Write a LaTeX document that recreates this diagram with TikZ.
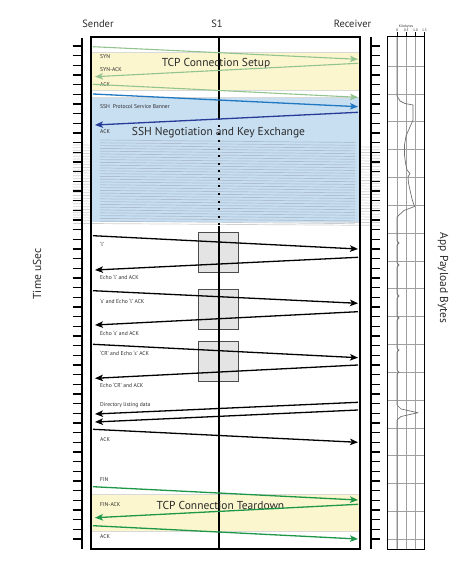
\documentclass[tikz,border=0pt]{standalone}
\usepackage{fontspec}
\setmainfont{PT Sans}
\usetikzlibrary{arrows.meta}
\definecolor{bandyellow}{HTML}{FBF6CE}
\definecolor{bandblue}{HTML}{C8DEF1}
\definecolor{gsetup}{HTML}{93C48F}
\definecolor{gtear}{HTML}{1E9848}
\definecolor{bmid}{HTML}{1F78C1}
\definecolor{bdark}{HTML}{263C98}
\definecolor{txt}{HTML}{2B2B2B}
\definecolor{stripe}{HTML}{98A6B4}
\definecolor{gridgrey}{HTML}{A0A0A0}
\definecolor{curvegrey}{HTML}{707070}
\definecolor{boxgrey}{HTML}{E4E4E4}
\tikzset{
  hdr/.style={font=\fontsize{10.5}{12}\selectfont, text=txt, inner sep=0pt},
  side/.style={font=\fontsize{11.5}{13}\selectfont, text=txt, inner sep=0pt},
  phase/.style={font=\fontsize{11.5}{13}\selectfont, text=txt, inner sep=0pt},
  lbl/.style={font=\fontsize{5.6}{6}\selectfont, text=txt, anchor=west, inner sep=0pt},
  tiny/.style={font=\fontsize{3.6}{4}\selectfont, text=txt, inner sep=0pt},
  msg/.style={-{Stealth[length=8pt,width=6.5pt,inset=2pt]}, line width=1.3pt},
  tick/.style={line width=1.2pt, black},
  frame/.style={line width=2pt, black},
  band/.style={draw=black!15, line width=0.6pt},
  relay/.style={fill=boxgrey, draw=black!70, line width=0.8pt},
}
\begin{document}
\begin{tikzpicture}[x=1pt,y=-1pt]
\useasboundingbox (0,0) rectangle (474,577);

% stripes that spill outside the box (SSH key exchange traffic)
\foreach \i in {0,...,28} {
  \draw[black!18, line width=0.7pt] (73,145+2.8*\i) -- (380,147+2.8*\i);
}

% phase bands
\fill[bandyellow] (91,52.7) rectangle (360,90.7);
\draw[band] (91,52.7) -- (360,52.7) (91,90.7) -- (360,90.7);
\fill[bandblue] (91,97) rectangle (360,222);
\draw[band] (91,97) -- (360,97);
\fill[bandyellow] (91,494) rectangle (360,531.7);
\draw[band] (91,494) -- (360,494) (91,531.7) -- (360,531.7);

% key exchange stripes inside the box
\foreach \i in {0,...,29} {
  \draw[stripe, opacity=0.55, line width=0.7pt] (100,140+2.8*\i) -- (355,142.5+2.8*\i);
}

% S1 relay boxes
\node[relay, minimum width=40pt, minimum height=39.6pt, inner sep=0pt] (r1) at (218.3,252.5) {};
\node[relay, minimum width=40pt, minimum height=39.7pt, inner sep=0pt] (r2) at (218.3,309.2) {};
\node[relay, minimum width=40pt, minimum height=39.3pt, inner sep=0pt] (r3) at (218.3,361.3) {};

% S1 line
\coordinate (s1top) at (219,37);
\coordinate (s1d1) at (219,118);
\coordinate (s1d2) at (219,226);
\coordinate (s1bot) at (219,549);
\draw[line width=1.1pt] (s1top) -- (s1d1);
\draw[line width=2pt, dash pattern=on 2pt off 5.5pt] (s1d1) -- (s1d2);
\draw[line width=1.1pt] (s1d2) -- (s1bot);

% timelines with ticks
\coordinate (lt1) at (82,38); \coordinate (lt2) at (82,549);
\coordinate (rt1) at (371,37); \coordinate (rt2) at (371,549);
\draw[line width=1.3pt] (lt1) -- (lt2);
\draw[line width=1.3pt] (rt1) -- (rt2);
\foreach \k in {0,...,51} {
  \draw[tick] (72.5,46+9.667*\k) -- (82,46+9.667*\k);
  \draw[tick] (371,46+9.667*\k) -- (379.5,46+9.667*\k);
}

% message end points
\coordinate (synA) at (93,46.7);   \coordinate (synB) at (358,59.3);
\coordinate (saA) at (358,63.3);   \coordinate (saB) at (95,76.7);
\coordinate (ackA) at (93,84.3);   \coordinate (ackB) at (358,97.3);
\coordinate (banA) at (93,94);     \coordinate (banB) at (358,106.7);
\coordinate (sackA) at (358,112.3);\coordinate (sackB) at (95,125);
\coordinate (lA) at (93,235.7);    \coordinate (lB) at (358,249);
\coordinate (elA) at (358,257.3);  \coordinate (elB) at (95,270);
\coordinate (sA) at (93,290.7);    \coordinate (sB) at (358,303.3);
\coordinate (esA) at (358,311.7);  \coordinate (esB) at (95,325);
\coordinate (crA) at (93,344.3);   \coordinate (crB) at (358,357.7);
\coordinate (ecrA) at (358,365);   \coordinate (ecrB) at (95,378.3);
\coordinate (d1A) at (358,402.3);  \coordinate (d1B) at (95,414);
\coordinate (d2A) at (358,410);    \coordinate (d2B) at (95,422);
\coordinate (dackA) at (93,429.3); \coordinate (dackB) at (358,442.3);
\coordinate (finA) at (93,486.7);  \coordinate (finB) at (358,500);
\coordinate (faA) at (358,504.3);  \coordinate (faB) at (95,517.7);
\coordinate (fackA) at (93,525.7); \coordinate (fackB) at (358,539);

% labels
\node[lbl] (tsyn) at (100,56.7) {SYN};
\node[lbl] (tsynack) at (100,70) {SYN-ACK};
\node[lbl] (tack1) at (100,85) {ACK};
\node[lbl] (tban) at (100,106.7) {SSH\ \ Protocol Service Banner};
\node[lbl] (tack2) at (100,131.7) {ACK};
\node[lbl] (tl) at (100,244) {`l'};
\node[lbl] (tel) at (100,277.3) {Echo `l' and ACK};
\node[lbl] (ts) at (100,301.7) {`s' and Echo `l' ACK};
\node[lbl] (tes) at (100,333.3) {Echo `s' and ACK};
\node[lbl] (tcr) at (100,353.3) {`CR' and Echo `s' ACK};
\node[lbl] (tecr) at (100,385.3) {Echo `CR' and ACK};
\node[lbl] (tdir) at (100,405) {Directory listing data};
\node[lbl] (tack3) at (100,439.3) {ACK};
\node[lbl] (tfin) at (100,480) {FIN};
\node[lbl] (tfinack) at (100,504.3) {FIN-ACK};
\node[lbl] (tack4) at (100,536.7) {ACK};

% phase titles
\node[phase] (psetup) at (216,63.5) {TCP Connection Setup};
\node[phase] (pssh) at (218.5,132.5) {SSH Negotiation and Key Exchange};
\node[phase] (ptear) at (220.5,505) {TCP Connection Teardown};

% messages
\draw[msg, gsetup, line width=1.1pt] (synA) -- (synB);
\draw[msg, gsetup, line width=1.1pt] (saA) -- (saB);
\draw[msg, gsetup, line width=1.1pt] (ackA) -- (ackB);
\draw[msg, bmid] (banA) -- (banB);
\draw[msg, bdark] (sackA) -- (sackB);
\draw[msg] (lA) -- (lB);
\draw[msg] (elA) -- (elB);
\draw[msg] (sA) -- (sB);
\draw[msg] (esA) -- (esB);
\draw[msg] (crA) -- (crB);
\draw[msg] (ecrA) -- (ecrB);
\draw[msg] (d1A) -- (d1B);
\draw[msg] (d2A) -- (d2B);
\draw[msg] (dackA) -- (dackB);
\draw[msg, gtear] (finA) -- (finB);
\draw[msg, gtear] (faA) -- (faB);
\draw[msg, gtear] (fackA) -- (fackB);

% main frame
\node[frame, draw, minimum width=269pt, minimum height=512pt, inner sep=0pt] (mainbox) at (225.5,293) {};

% headers
\node[hdr] (sender) at (98,24) {Sender};
\node[hdr] (s1) at (217,24) {S1};
\node[hdr] (receiver) at (352.5,24) {Receiver};

% side titles
\node[side, rotate=90] (time) at (37,274) {Time uSec};
\node[side, rotate=-90] (app) at (443,278) {App Payload Bytes};

% payload graph
\foreach \k in {0,...,17} {
  \draw[gridgrey, line width=0.6pt] (387.5,66+27.84*\k) -- (424.5,66+27.84*\k);
}
\foreach \xx in {397,406.3,415.5} {
  \draw[gridgrey, line width=0.6pt] (\xx,36) -- (\xx,549);
}
\draw[curvegrey, line width=0.7pt, line join=round]
  (397,37) -- (397,96) -- (400,101) -- (405,103.5) -- (413,105) -- (413,120)
  -- (409.5,128) -- (406,136) -- (404.5,145) -- (404.5,155) -- (405.5,163)
  -- (407,170) -- (410,173.5) -- (408,177) -- (408.5,183) -- (410,190)
  -- (412,199) -- (414.5,206.5) -- (404,210.5) -- (397,217) -- (397,241)
  -- (399,243) -- (397,245) -- (397,263) -- (399,265) -- (397,267)
  -- (397,294) -- (399,296) -- (397,298) -- (397,316) -- (399,318) -- (397,320)
  -- (397,348) -- (399,350) -- (397,352) -- (397,370) -- (399,372) -- (397,374)
  -- (397,405) -- (401,409) -- (418,412.7) -- (401,416.5) -- (397,420) -- (397,549);
\node[draw, line width=0.9pt, minimum width=37pt, minimum height=513pt, inner sep=0pt] (graph) at (406,292.5) {};
\foreach \xx/\t in {397/0,406.3/0.5,415.5/1.0,424.5/1.5} {
  \draw[line width=0.6pt] (\xx,32.5) -- (\xx,36);
  \node[tiny] at (\xx,30.5) {\t};
}
\node[tiny] (kb) at (406,26.5) {Kilobytes};
\end{tikzpicture}
\end{document}
